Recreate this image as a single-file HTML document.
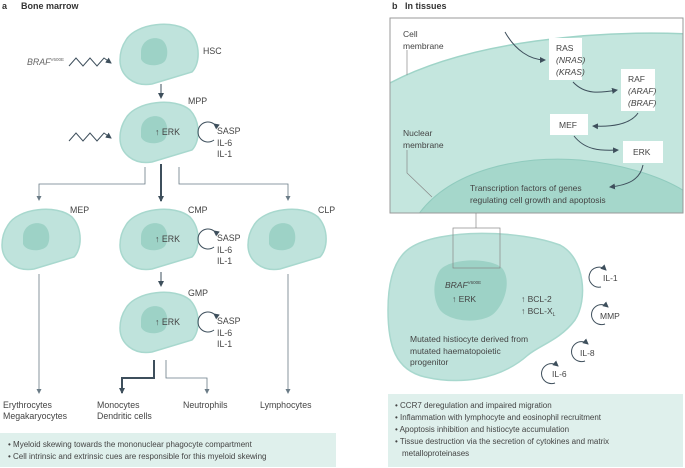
<!DOCTYPE html>
<html><head><meta charset="utf-8"><style>
body{margin:0;background:#fff;}
svg{display:block;font-family:"Liberation Sans",sans-serif;}
</style></head><body>
<svg width="685" height="468" viewBox="0 0 685 468">
<defs>
<g id="cell">
<path d="M6 18 C16 1 55 -3 70 10 C81 22 80 42 72 50 L32 62 C13 65 0 53 0 38 C0 30 2 24 6 18 Z" fill="#bfe3dc" stroke="#a8d8ce" stroke-width="1.5"/>
<path d="M21 30 C21 19 32 14 40 17 C48 20 49 33 45 39 C40 45 24 45 21 37 Z" fill="#9dd2c6"/>
</g>
<marker id="ah" markerWidth="6" markerHeight="6" refX="5" refY="3" orient="auto" markerUnits="userSpaceOnUse"><path d="M0 0 L6 3 L0 6 Z" fill="#3e4f5c"/></marker>
<marker id="ahg" markerWidth="5" markerHeight="5" refX="4" refY="2.5" orient="auto" markerUnits="userSpaceOnUse"><path d="M0 0 L5 2.5 L0 5 Z" fill="#6a7b86"/></marker>
</defs>
<g font-size="8.5" fill="#333">
<text x="2" y="9" font-weight="bold" font-size="9">a</text>
<text x="21" y="9" font-weight="bold" font-size="9">Bone marrow</text>
<text x="392" y="9" font-weight="bold" font-size="9">b</text>
<text x="405" y="9" font-weight="bold" font-size="9">In tissues</text>
</g>
<use href="#cell" x="120" y="22"/>
<use href="#cell" x="120" y="100"/>
<use href="#cell" x="2" y="207"/>
<use href="#cell" x="120" y="207"/>
<use href="#cell" x="248" y="207"/>
<use href="#cell" x="120" y="290"/>
<g font-size="8.8" fill="#444">
<text x="203" y="54">HSC</text>
<text x="188" y="104">MPP</text>
<text x="70" y="213">MEP</text>
<text x="188" y="213">CMP</text>
<text x="318" y="213">CLP</text>
<text x="188" y="296">GMP</text>
<text x="27" y="65" font-style="italic" fill="#666">BRAF<tspan font-size="4.5" dy="-4" font-style="normal">V600E</tspan></text>
<text x="155" y="135">↑ ERK</text>
<text x="155" y="242">↑ ERK</text>
<text x="155" y="325">↑ ERK</text>
<text x="217" y="134">SASP</text><text x="217" y="146">IL-6</text><text x="217" y="157">IL-1</text>
<text x="217" y="241">SASP</text><text x="217" y="253">IL-6</text><text x="217" y="264">IL-1</text>
<text x="217" y="324">SASP</text><text x="217" y="336">IL-6</text><text x="217" y="347">IL-1</text>
<text x="3" y="408">Erythrocytes</text><text x="3" y="419">Megakaryocytes</text>
<text x="97" y="408">Monocytes</text><text x="97" y="419">Dendritic cells</text>
<text x="183" y="408">Neutrophils</text>
<text x="260" y="408">Lymphocytes</text>
</g>
<g fill="none" stroke="#3e4f5c" stroke-width="1">
<path d="M69 66 L76 58 L83 66 L90 58 L97 66 L104 58 L111 63" marker-end="url(#ah)"/>
<path d="M69 141 L76 133 L83 141 L90 133 L97 141 L104 133 L111 138" marker-end="url(#ah)"/>
<path d="M214 124 A10 10 0 1 0 214 140" marker-start="url(#ah)"/>
<path d="M214 231 A10 10 0 1 0 214 247" marker-start="url(#ah)"/>
<path d="M214 314 A10 10 0 1 0 214 330" marker-start="url(#ah)"/>
<path d="M161 84 L161 98" marker-end="url(#ah)"/>
<path d="M161 164 L161 201" stroke-width="2" marker-end="url(#ah)"/>
<path d="M161 272 L161 286" marker-end="url(#ah)"/>
<path d="M154 360 L154 378 L122 378 L122 393" stroke-width="2" marker-end="url(#ah)"/>
</g>
<g fill="none" stroke="#6a7b86" stroke-width="0.8">
<path d="M145 167 L145 184 L39 184 L39 200" marker-end="url(#ahg)"/>
<path d="M179 167 L179 184 L288 184 L288 200" marker-end="url(#ahg)"/>
<path d="M39 274 L39 393" marker-end="url(#ahg)"/>
<path d="M288 274 L288 393" marker-end="url(#ahg)"/>
<path d="M166 360 L166 378 L207 378 L207 393" marker-end="url(#ahg)"/>
</g>
<rect x="0" y="433" width="336" height="34" fill="#dff0ec"/>
<g font-size="8" fill="#444">
<text x="8" y="447">• Myeloid skewing towards the mononuclear phagocyte compartment</text>
<text x="8" y="459">• Cell intrinsic and extrinsic cues are responsible for this myeloid skewing</text>
</g>
<clipPath id="cb"><rect x="390" y="18" width="293" height="195"/></clipPath>
<rect x="390" y="18" width="293" height="195" fill="#fff"/>
<g clip-path="url(#cb)">
<path d="M388 84 C470 40 600 30 690 34 L690 215 L388 215 Z" fill="#c4e6de" stroke="#9fd4c8" stroke-width="1.5"/>
<path d="M418 215 C450 170 520 155 580 160 C630 165 670 180 690 195 L690 215 Z" fill="#a5d7cb" stroke="#90cbbe" stroke-width="1"/>
</g>
<rect x="390" y="18" width="293" height="195" fill="none" stroke="#999" stroke-width="1"/>
<g fill="none" stroke="#888" stroke-width="0.7">
<path d="M407 50 L407 75"/>
<path d="M407 150 L407 173 L432 197"/>
<path d="M476 213 L476 228"/>
</g>
<g fill="#fff"><rect x="549" y="38" width="33" height="42"/><rect x="621" y="69" width="34" height="42"/><rect x="550" y="114" width="38" height="21"/><rect x="623" y="141" width="40" height="22"/></g>
<g font-size="8.5" fill="#444">
<text x="403" y="37">Cell</text><text x="403" y="49">membrane</text>
<text x="403" y="136">Nuclear</text><text x="403" y="148">membrane</text>
<text x="556" y="51">RAS</text><text x="556" y="63" font-style="italic">(NRAS)</text><text x="556" y="75" font-style="italic">(KRAS)</text>
<text x="628" y="82">RAF</text><text x="628" y="94" font-style="italic">(ARAF)</text><text x="628" y="106" font-style="italic">(BRAF)</text>
<text x="559" y="128">MEF</text>
<text x="633" y="155">ERK</text>
<text x="470" y="191">Transcription factors of genes</text>
<text x="470" y="203">regulating cell growth and apoptosis</text>
</g>
<g fill="none" stroke="#3e4f5c" stroke-width="1">
<path d="M505 32 C515 50 530 60 545 60" marker-end="url(#ah)"/>
<path d="M573 82 C585 95 600 93 617 90" marker-end="url(#ah)"/>
<path d="M638 113 C630 125 610 127 593 126" marker-end="url(#ah)"/>
<path d="M574 136 C585 150 600 151 618 150" marker-end="url(#ah)"/>
<path d="M643 165 C640 180 628 185 610 187" marker-end="url(#ah)"/>
</g>
<path d="M410 248 C440 228 520 230 560 245 C585 258 588 300 575 320 C560 340 540 345 528 355 C500 380 460 385 425 377 C395 370 388 345 388 310 C388 280 395 258 410 248 Z" fill="#bfe3dc" stroke="#a8d8ce" stroke-width="1.5"/>
<path d="M440 270 C450 258 490 257 502 268 C512 280 505 305 492 315 C478 324 450 322 440 310 C432 298 433 280 440 270 Z" fill="#9dd2c6"/>
<rect x="453" y="228" width="47" height="40" fill="none" stroke="#888" stroke-width="0.7"/>
<g font-size="8.5" fill="#444">
<text x="445" y="288" font-style="italic">BRAF<tspan font-size="4.5" dy="-4" font-style="normal">V600E</tspan></text>
<text x="452" y="302">↑ ERK</text>
<text x="521" y="302">↑ BCL-2</text>
<text x="521" y="314">↑ BCL-X<tspan font-size="5" dy="2">L</tspan></text>
<text x="410" y="342">Mutated histiocyte derived from</text>
<text x="410" y="354">mutated haematopoietic</text>
<text x="410" y="365">progenitor</text>
<text x="603" y="281">IL-1</text>
<text x="600" y="319">MMP</text>
<text x="580" y="356">IL-8</text>
<text x="552" y="377">IL-6</text>
</g>
<g fill="none" stroke="#3e4f5c" stroke-width="1">
<path d="M601 287 A10 10 0 1 1 606 270" marker-end="url(#ah)"/>
<path d="M605 324 A10 10 0 1 1 608 307" marker-end="url(#ah)"/>
<path d="M585 361 A10 10 0 1 1 588 344" marker-end="url(#ah)"/>
<path d="M555 383 A10 10 0 1 1 558 366" marker-end="url(#ah)"/>
</g>
<rect x="388" y="394" width="295" height="73" fill="#dff0ec"/>
<g font-size="8" fill="#444">
<text x="395" y="408">• CCR7 deregulation and impaired migration</text>
<text x="395" y="420">• Inflammation with lymphocyte and eosinophil recruitment</text>
<text x="395" y="432">• Apoptosis inhibition and histiocyte accumulation</text>
<text x="395" y="444">• Tissue destruction via the secretion of cytokines and matrix</text>
<text x="402" y="456">metalloproteinases</text>
</g>
</svg>
</body></html>
